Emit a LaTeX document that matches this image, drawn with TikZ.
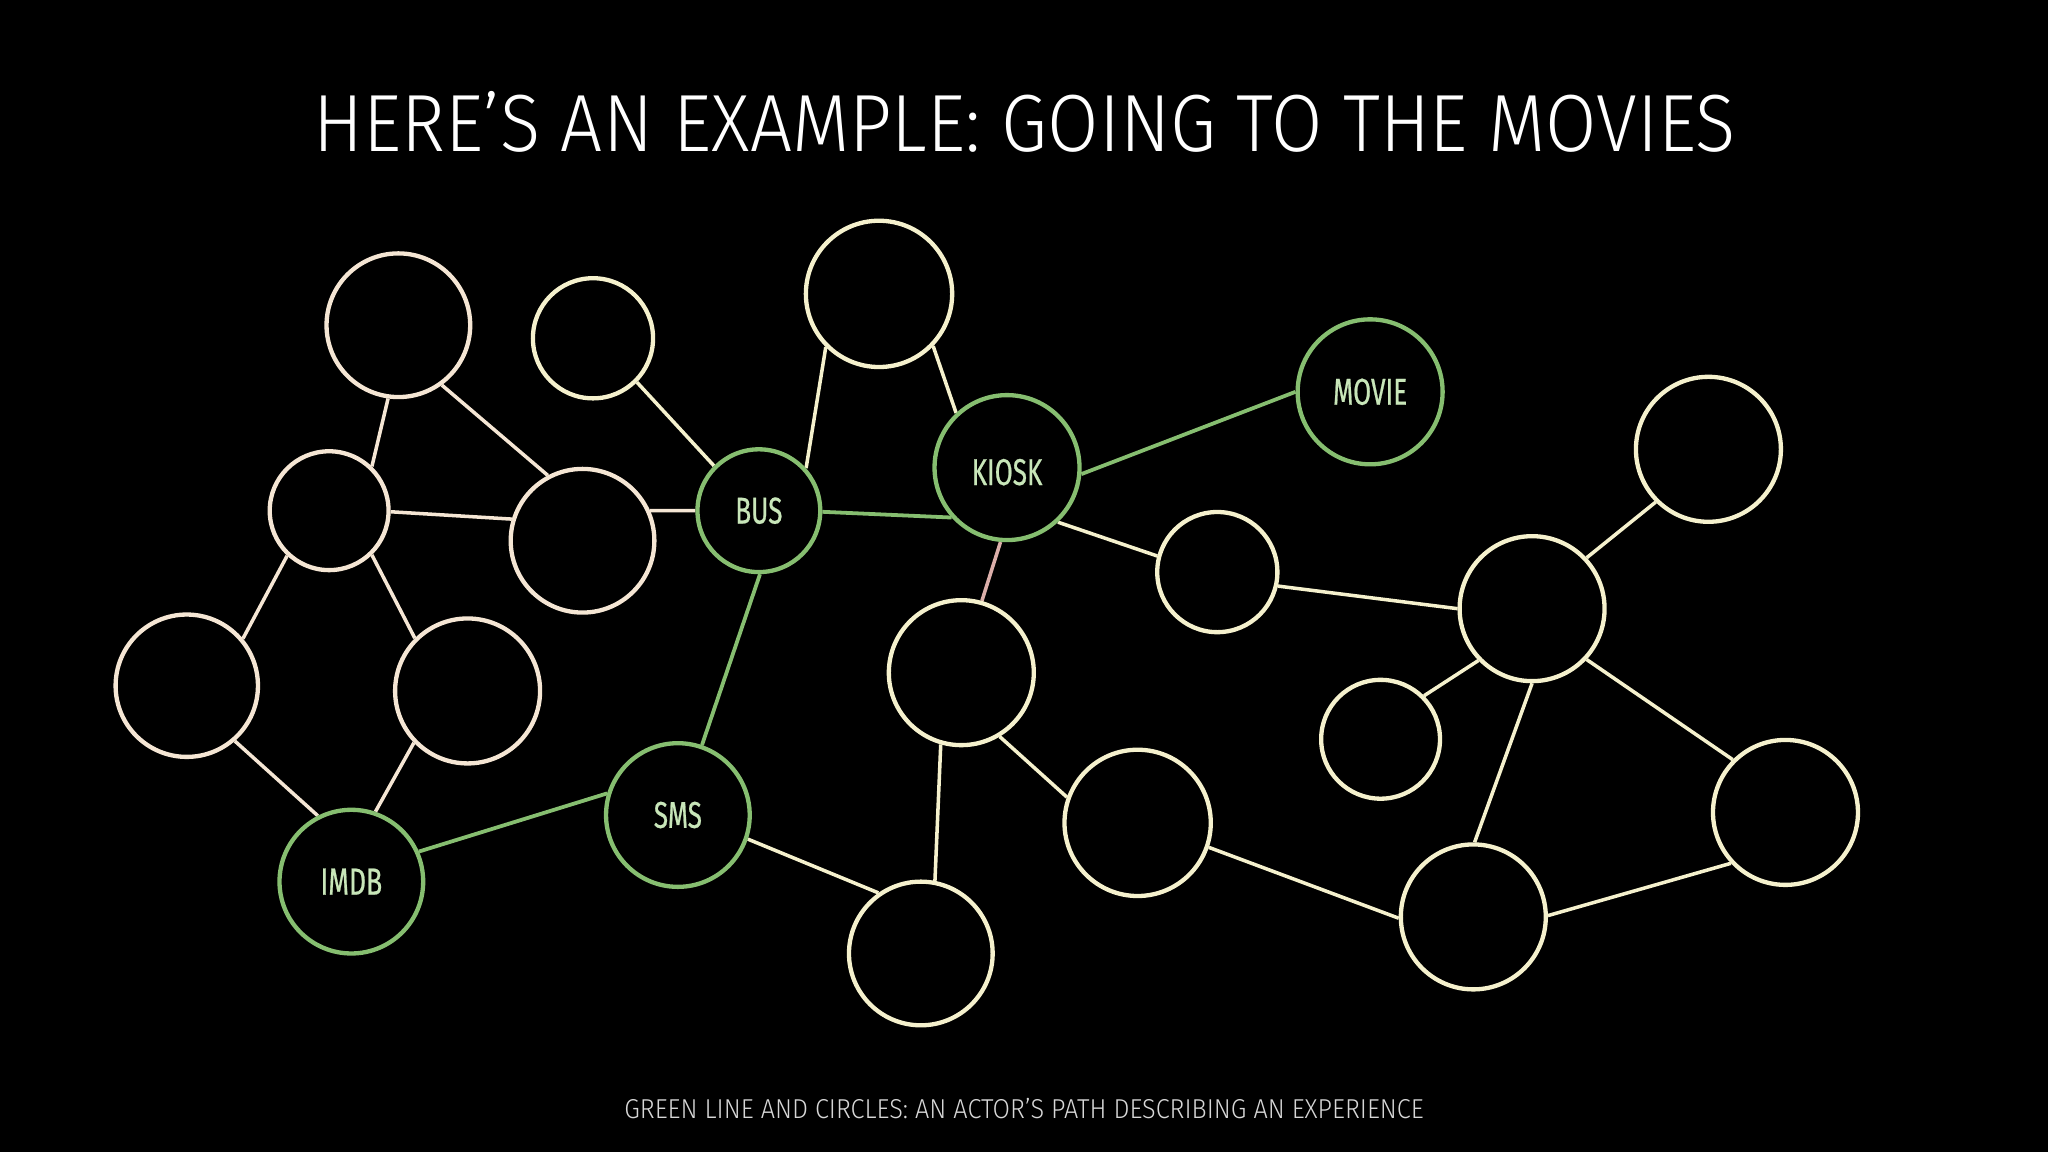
\documentclass[tikz,border=0pt]{standalone}
\usepackage{fontspec}
\setmainfont{Fira Sans}
\newfontfamily\titlefont{Fira Sans Light}
\newfontfamily\labelfont{Fira Sans}[FakeStretch=0.7,FakeBold=0.6]
\definecolor{creamP}{RGB}{245,230,212}
\definecolor{creamY}{RGB}{245,241,205}
\definecolor{pathgreen}{RGB}{134,190,112}
\definecolor{labelgreen}{RGB}{200,230,185}
\definecolor{pinkline}{RGB}{220,175,170}
\definecolor{subgray}{RGB}{215,215,215}
\pgfdeclarelayer{back}
\pgfdeclarelayer{edges}
\pgfsetlayers{back,edges,main}
\newcommand{\lbl}[1]{\resizebox{!}{20pt}{\labelfont #1}}
\begin{document}
\begin{tikzpicture}[x=1pt,y=-1pt,
  bubP/.style={circle,draw=creamP,line width=3.3pt,fill=black,inner sep=0pt,minimum size=#1},
  bubY/.style={circle,draw=creamY,line width=3.3pt,fill=black,inner sep=0pt,minimum size=#1},
  bubG/.style={circle,draw=pathgreen,line width=3.3pt,fill=black,inner sep=0pt,minimum size=#1,text=labelgreen},
  edgeP/.style={draw=creamP,line width=2.7pt},
  edgeY/.style={draw=creamY,line width=2.7pt},
  edgeG/.style={draw=pathgreen,line width=2.9pt},
  edgePink/.style={draw=pinkline,line width=2.7pt}]
\begin{pgfonlayer}{back}
\fill[black] (0,0) rectangle (1568,882);
\end{pgfonlayer}
\useasboundingbox (0,0) rectangle (1568,882);

\node[text=white,inner sep=0pt] (title) at (784.5,93)
  {\resizebox{1088pt}{46pt}{\titlefont HERE’S AN EXAMPLE: GOING TO THE MOVIES}};
\node[text=subgray,inner sep=0pt] (sub) at (784,849)
  {\resizebox{612pt}{15.5pt}{\titlefont GREEN LINE AND CIRCLES: AN ACTOR’S PATH DESCRIBING AN EXPERIENCE}};

\node[bubP=110] (A) at (305,249) {};
\node[bubY=92] (B) at (454,259) {};
\node[bubY=112] (C) at (673,225) {};
\node[bubP=91] (D) at (252,391) {};
\node[bubP=110] (E) at (446,414) {};
\node[bubG=94] (BUS) at (581,391) {\lbl{BUS}};
\node[bubG=111,label={[text=labelgreen,inner sep=0pt,yshift=-3.5pt]center:\lbl{KIOSK}}] (KIOSK) at (771,358) {};
\node[bubG=111] (MOVIE) at (1049,300) {\lbl{MOVIE}};
\node[bubY=92] (F) at (932,438) {};
\node[bubY=111] (G) at (1308,344) {};
\node[bubY=111] (H) at (1173,466) {};
\node[bubP=109] (I) at (143,525) {};
\node[bubP=111] (J) at (358,529) {};
\node[bubY=111] (K) at (736,515) {};
\node[bubY=91] (L) at (1057,566) {};
\node[bubY=111] (M) at (1367,622) {};
\node[bubG=110] (IMDB) at (269,675) {\lbl{IMDB}};
\node[bubG=110] (SMS) at (519,624) {\lbl{SMS}};
\node[bubY=112] (N) at (871,630) {};
\node[bubY=110] (O) at (705,730) {};
\node[bubY=111] (P) at (1128,702) {};

\begin{pgfonlayer}{edges}
\draw[edgeP] (A.262) -- (D.46);
\draw[edgeP] (A.306) -- (E.118);
\draw[edgeP] (D.359) -- (E.163);
\draw[edgeP] (D.227) -- (I.40);
\draw[edgeP] (D.314) -- (J.135);
\draw[edgeP] (I.311) -- (IMDB.117);
\draw[edgeP] (J.224) -- (IMDB.71);
\draw[edgeP] (E.24) -- (BUS.180);
\draw[edgeY] (B.315) -- (BUS.135);
\draw[edgeY] (C.225) -- (BUS.42);
\draw[edgeY] (C.316) -- (KIOSK.133);
\draw[edgeG] (BUS.359) -- (KIOSK.222);
\draw[edgeG] (BUS.271) -- (SMS.71);
\draw[edgeG] (IMDB.24) -- (SMS.163);
\draw[edgeG] (KIOSK.355) -- (MOVIE.180);
\draw[edgePink] (KIOSK.265) -- (K.74);
\draw[edgeY] (KIOSK.313) -- (F.165);
\draw[edgeY] (F.347) -- (H.180);
\draw[edgeY] (H.43) -- (G.225);
\draw[edgeY] (H.224) -- (L.45);
\draw[edgeY] (H.317) -- (M.135);
\draw[edgeY] (H.270) -- (P.89);
\draw[edgeY] (SMS.341) -- (O.125);
\draw[edgeY] (K.254) -- (O.79);
\draw[edgeY] (K.301) -- (N.160);
\draw[edgeY] (N.341) -- (P.181);
\draw[edgeY] (P.1) -- (M.223);
\end{pgfonlayer}
\end{tikzpicture}
\end{document}
